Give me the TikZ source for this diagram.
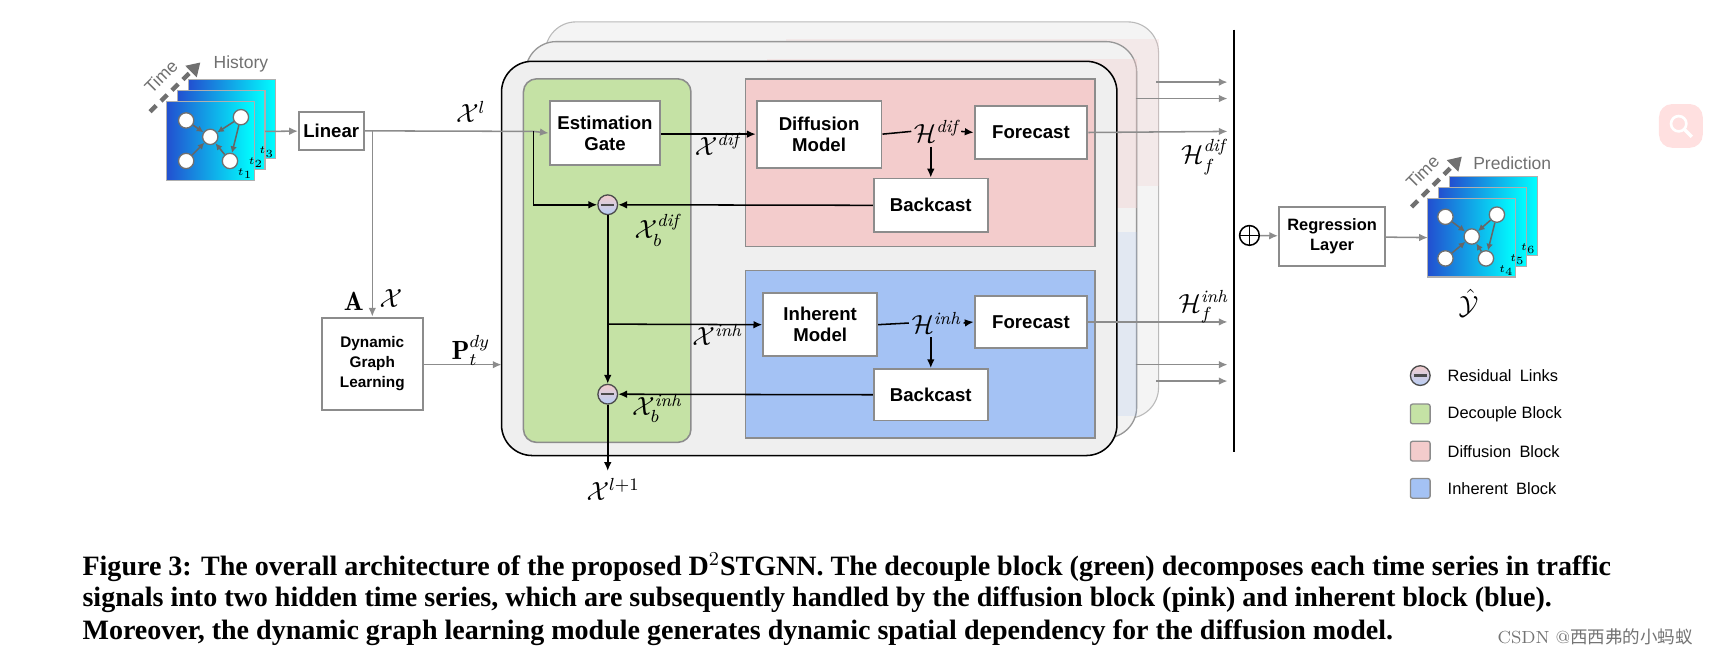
\documentclass[tikz,border=0pt]{standalone}
\usepackage{fontspec}
\usepackage{amsmath}
\setsansfont{Liberation Sans}
\newfontfamily\capfont{Liberation Serif}
\newfontfamily\cjk{Noto Sans CJK SC}
\usetikzlibrary{arrows.meta,shapes.geometric}
\definecolor{gfill}{HTML}{C5E2A5}
\definecolor{pfill}{HTML}{F3CCCC}
\definecolor{bfill}{HTML}{A4C2F4}
\definecolor{lgr}{HTML}{EFEFEF}
\definecolor{arr}{HTML}{8C8C8C}
\begin{document}
\begin{tikzpicture}[x=0.5pt,y=-0.5pt,
 box/.style={draw=arr,line width=0.9pt,fill=white,font=\sffamily\bfseries\fontsize{8.5}{9.5}\selectfont,align=center,inner sep=0pt},
 ga/.style={draw=arr,line width=0.7pt,-{Latex[length=4pt,width=3.5pt]}},
 ka/.style={draw=black,line width=0.7pt,-{Latex[length=4pt,width=3.5pt]}},
 ml/.style={font=\fontsize{12}{12}\selectfont},
 tl/.style={font=\fontsize{5}{5}\selectfont,anchor=south east,inner sep=0.6pt},
 res/.style={circle,draw=black!70,line width=0.6pt,minimum size=9pt,inner sep=0pt,top color=pfill,bottom color=bfill!80,path picture={\draw[line width=1pt] ([xshift=-3pt]path picture bounding box.center)--([xshift=3pt]path picture bounding box.center);}},
 frame/.style={draw=arr!70,line width=0.5pt,left color={rgb,255:red,34;green,80;blue,208},right color=cyan},
 gn/.style={circle,draw=arr!80!black,fill=white,line width=0.6pt,minimum size=7pt,inner sep=0pt},
 ge/.style={draw=black!60,line width=0.7pt,-{Latex[length=3pt,width=3pt]}}]
\useasboundingbox (0,0) rectangle (1568,604);
% ---------- history stack
\foreach \d in {20,10,0}{\draw[frame] (152+\d,93-\d) rectangle (232+\d,165-\d);}
\foreach \d/\t in {20/3,10/2,0/1}{\node[tl] at (232+\d,165-\d) {$t_{\t}$};}
\node[gn] (h1) at (170,110){}; \node[gn] (h2) at (220,107){}; \node[gn] (h3) at (192,125){};
\node[gn] (h4) at (170,147){}; \node[gn] (h5) at (210,147){};
\draw[ge] (h1)--(h3); \draw[ge] (h2)--(h3); \draw[ge] (h2)--(h5); \draw[ge] (h4)--(h3); \draw[ge] (h5)--(h3);
\coordinate (t0) at (137,102); \coordinate (t1) at (183,57);
\draw[arr!80!black,line width=2pt,dash pattern=on 4pt off 3pt,-{Triangle[length=6pt,width=7pt]}] (t0)--(t1);
\node[rotate=45,font=\sffamily\fontsize{8}{8}\selectfont,text=arr!80!black,inner sep=1pt] at (147,70) {Time};
\node[font=\sffamily\fontsize{8}{8}\selectfont,text=arr!80!black] at (220,58) {History};
% ---------- linear & DGL
\node[box,minimum width=29.5pt,minimum height=17.5pt] (lin) at (302.5,119.5) {Linear};
\node[box,minimum width=46pt,minimum height=42pt,font=\sffamily\bfseries\fontsize{7}{9}\selectfont] (dgl) at (340,332) {Dynamic\\Graph\\Learning};
\coordinate (hs) at (242,120);
\draw[ga] (hs)--(lin);
\node[ml] at (323,275) {$\mathbf{A}$};
\node[ml] at (357,273) {$\mathcal{X}$};
% ---------- stacked layer frames
\draw[rounded corners=14pt,draw=arr!60,fill=lgr!70,line width=0.5pt] (498,20) rectangle (1058,382);
\fill[gfill,opacity=0.18,rounded corners=6pt] (516,40) rectangle (668,360);
\fill[pfill,opacity=0.25] (718,36) rectangle (1058,170);
\draw[rounded corners=14pt,draw=arr!90,fill=lgr!80,line width=0.6pt] (480,38) rectangle (1038,400);
\fill[gfill,opacity=0.22,rounded corners=6pt] (498,58) rectangle (650,385);
\fill[pfill,opacity=0.35] (700,54) rectangle (1038,190);
\fill[bfill,opacity=0.2] (700,212) rectangle (1038,380);
\draw[rounded corners=14pt,draw=black,fill=lgr,line width=0.7pt] (458,56) rectangle (1020,416);
% ---------- green / pink / blue blocks
\draw[rounded corners=6pt,draw=arr,fill=gfill,line width=0.7pt] (478,72) rectangle (631,404);
\draw[draw=arr,fill=pfill,line width=0.7pt] (681,72) rectangle (1000,225);
\draw[draw=arr,fill=bfill,line width=0.7pt] (681,247) rectangle (1000,400);
\node[box,minimum width=50.5pt,minimum height=29.5pt] (eg) at (552.5,121.5) {Estimation\\Gate};
\node[box,minimum width=57pt,minimum height=30.5pt] (dm) at (748,122.5) {Diffusion\\Model};
\node[box,minimum width=51.5pt,minimum height=24pt] (fd) at (941.5,121) {Forecast};
\node[box,minimum width=52pt,minimum height=24.5pt] (bd) at (850,187.5) {Backcast};
\node[box,minimum width=52pt,minimum height=28.5pt] (im) at (749,296.5) {Inherent\\Model};
\node[box,minimum width=51.5pt,minimum height=24pt] (fi) at (941.5,294) {Forecast};
\node[box,minimum width=52pt,minimum height=23.5pt] (bi) at (850,360.5) {Backcast};
\node[res] (r1) at (555,187) {};
\node[res] (r2) at (555,360) {};
\node[ml,inner sep=1pt] (hd) at (855,120) {$\mathcal{H}^{\mathit{dif}}$};
\node[ml,inner sep=1pt] (hi) at (855,295) {$\mathcal{H}^{\mathit{inh}}$};
% ---------- flows
\coordinate (xin) at (487,120);
\draw[draw=arr,line width=0.7pt] (lin.east)--(xin);
\draw[ga] (xin)--(eg.west);
\node[ml] at (430,102) {$\mathcal{X}^{l}$};
\coordinate (br) at (340,120);
\draw[ga] (br)--(dgl.north);
\coordinate (pin) at (458,333);
\draw[ga] (dgl.east|-pin)--(pin);
\node[ml] at (430,320) {$\mathbf{P}_{t}^{dy}$};
\draw[ka,rounded corners=0pt] (xin)|-(r1.west);
\draw[ka] (eg.east|-dm.west)--(dm.west);
\node[ml] at (655,132) {$\mathcal{X}^{\mathit{dif}}$};
\draw[line width=0.7pt] (dm.east)--(hd.west);
\draw[ka] (hd.east)--(fd.west);
\draw[ka] (850,134)--(bd.north);
\draw[ka] (bd.west)--(r1.east);
\node[ml] at (600,210) {$\mathcal{X}_{b}^{\mathit{dif}}$};
\draw[ka] (r1.south)--(r2.north);
\coordinate (bj) at (555,296);
\draw[ka] (bj)--(im.west);
\node[ml] at (655,306) {$\mathcal{X}^{\mathit{inh}}$};
\draw[line width=0.7pt] (im.east)--(hi.west);
\draw[ka] (hi.east)--(fi.west);
\draw[ka] (850,308)--(bi.north);
\draw[ka] (bi.west)--(r2.east);
\node[ml] at (600,373) {$\mathcal{X}_{b}^{\mathit{inh}}$};
\node[ml] (xo) at (560,447) {$\mathcal{X}^{l+1}$};
\draw[ka] (r2.south)--(r2.south|-xo.north);
% ---------- outputs
\coordinate (vt) at (1127,27); \coordinate (vb) at (1127,413);
\draw[line width=0.7pt] (vt)--(vb);
\foreach \x/\y in {1056/75,1037/90,1037/333,1056/348}{\draw[ga] (\x,\y)--(1121,\y);}
\draw[ga] (fd.east)--(1121,120);
\draw[ga] (fi.east)--(1121,294);
\node[ml] at (1099,143) {$\mathcal{H}_{f}^{\mathit{dif}}$};
\node[ml] at (1099,280) {$\mathcal{H}_{f}^{\mathit{inh}}$};
\node[circle,draw,line width=0.7pt,minimum size=9pt,inner sep=0pt,path picture={\draw[line width=0.7pt] (path picture bounding box.north)--(path picture bounding box.south) (path picture bounding box.west)--(path picture bounding box.east);}] (op) at (1141,215) {};
\node[box,minimum width=48.5pt,minimum height=27pt,font=\sffamily\bfseries\fontsize{7.5}{9}\selectfont] (reg) at (1216.5,216) {Regression\\Layer};
\draw[ga] (op)--(reg);
% prediction stack
\foreach \d in {20,10,0}{\draw[frame] (1304+\d,181-\d) rectangle (1384+\d,253-\d);}
\foreach \d/\t in {20/6,10/5,0/4}{\node[tl] at (1384+\d,253-\d) {$t_{\t}$};}
\coordinate (ps) at (1304,217);
\draw[ga] (reg)--(ps);
\node[gn] (p1) at (1320,198){}; \node[gn] (p2) at (1367,196){}; \node[gn] (p3) at (1344,216){};
\node[gn] (p4) at (1320,236){}; \node[gn] (p5) at (1357,236){};
\draw[ge] (p1)--(p3); \draw[ge] (p2)--(p3); \draw[ge] (p2)--(p5); \draw[ge] (p4)--(p3); \draw[ge] (p5)--(p3);
\coordinate (q0) at (1289,189); \coordinate (q1) at (1335,143);
\draw[arr!80!black,line width=2pt,dash pattern=on 4pt off 3pt,-{Triangle[length=6pt,width=7pt]}] (q0)--(q1);
\node[rotate=45,font=\sffamily\fontsize{8}{8}\selectfont,text=arr!80!black,inner sep=1pt] at (1299,157) {Time};
\node[font=\sffamily\fontsize{8}{8}\selectfont,text=arr!80!black] at (1381,149) {Prediction};
\node[ml] at (1341,277) {$\hat{\mathcal{Y}}$};
% ---------- legend
\node[res] (lr) at (1297,343) {};
\node[anchor=west,font=\sffamily\fontsize{7.5}{8}\selectfont] at (1315,343) {Residual\enspace Links};
\foreach \c/\y/\t in {gfill/378/Decouple Block,pfill/412/Diffusion\enspace Block,bfill/446/Inherent\enspace Block}{
 \draw[draw=arr,fill=\c,line width=0.6pt,rounded corners=1pt] (1288,\y-9) rectangle (1306,\y+9);
 \node[anchor=west,font=\sffamily\fontsize{7.5}{8}\selectfont] at (1315,\y) {\t};}
% ---------- pink icon
\fill[red!12,rounded corners=6pt] (1515,95) rectangle (1555,135);
\draw[white,line width=1.2pt] (1533,113) circle (7);
\draw[white,line width=1.5pt] (1538,118)--(1545,125);
% ---------- caption
\begin{scope}[every node/.style={anchor=west,inner sep=0pt,font=\capfont\bfseries\fontsize{12.8}{14}\selectfont}]
\node at (75,518) {Figure 3: The overall architecture of the proposed D$^{2}$STGNN. The decouple block (green) decomposes each time series in traffic};
\node at (75,548) {signals into two hidden time series, which are subsequently handled by the diffusion block (pink) and inherent block (blue).};
\node at (75,578) {Moreover, the dynamic graph learning module generates dynamic spatial dependency for the diffusion model.};
\end{scope}
\node[anchor=east,text=black!55,font=\fontsize{8}{8}\selectfont] at (1553,582) {CSDN @{\cjk 西西弗的小蚂蚁}};
\end{tikzpicture}
\end{document}
